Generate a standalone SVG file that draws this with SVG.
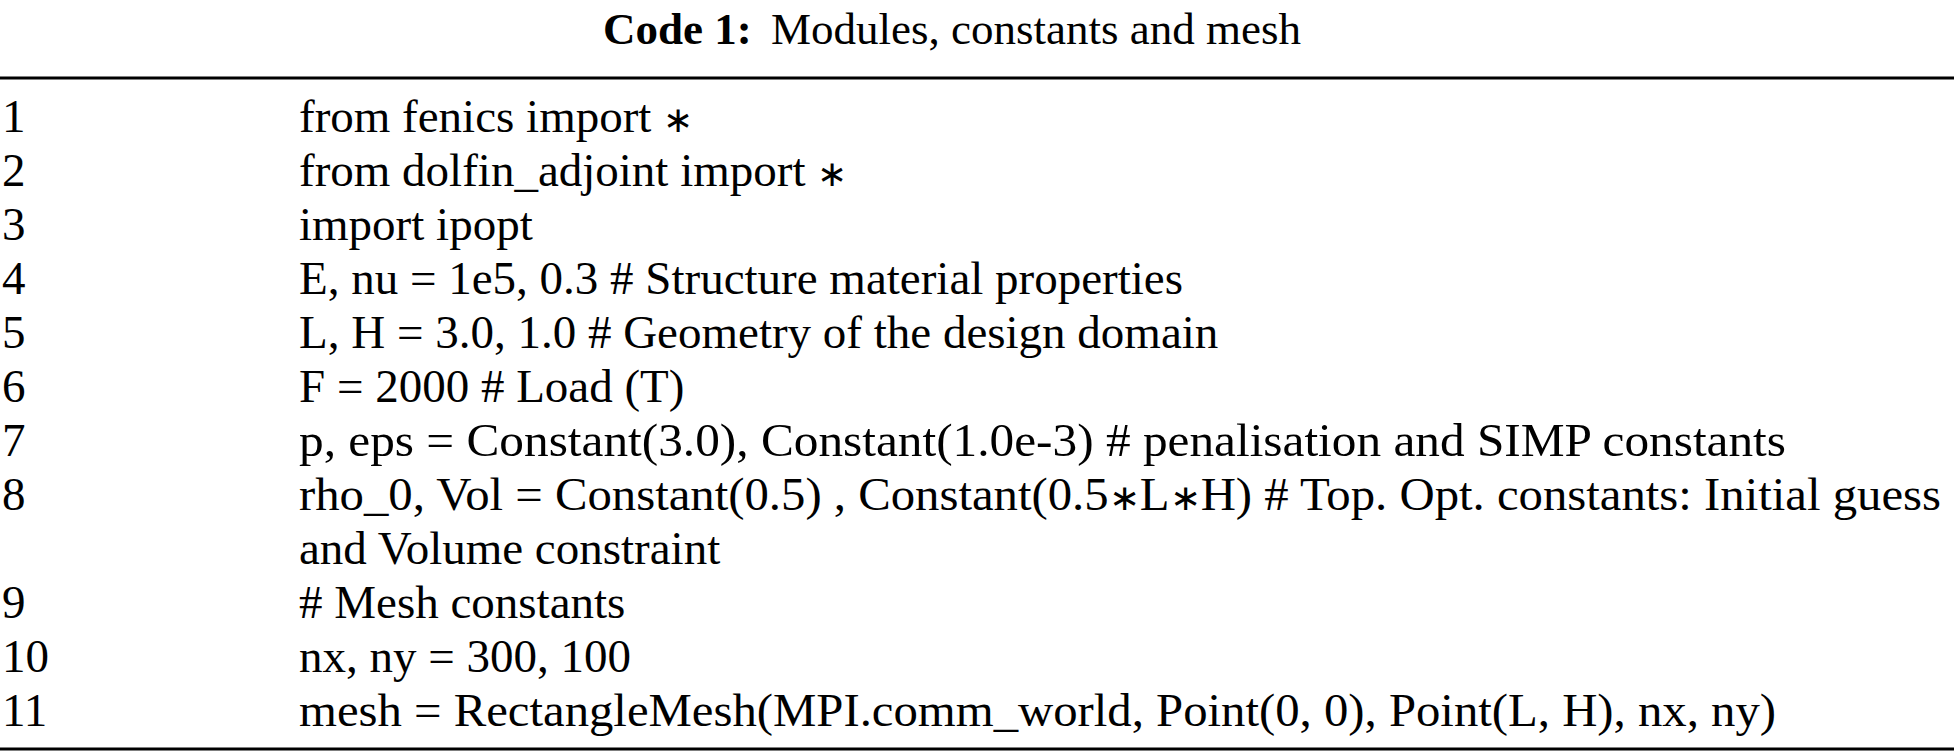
<svg xmlns="http://www.w3.org/2000/svg" width="1954" height="754" viewBox="0 0 1954 754">
<style>
text{font-family:"Liberation Serif","Times New Roman",serif;font-size:47px;fill:#000}
.cap{font-size:45px}
.ast{font-size:36px}
.rule{stroke:#000;stroke-width:3}
</style>
<rect width="1954" height="754" fill="#fff"/>
<text class="cap" x="603" y="44"><tspan font-weight="bold">Code 1:</tspan><tspan x="771">Modules, constants and mesh</tspan></text>
<line class="rule" x1="0" y1="78" x2="1954" y2="78"/>
<line class="rule" x1="0" y1="749" x2="1954" y2="749"/>
<g id="numbers">
<text x="2" y="132">1</text>
<text x="2" y="186">2</text>
<text x="2" y="240">3</text>
<text x="2" y="294">4</text>
<text x="2" y="348">5</text>
<text x="2" y="402">6</text>
<text x="2" y="456">7</text>
<text x="2" y="510">8</text>
<text x="2" y="618">9</text>
<text x="2" y="672">10</text>
<text x="2" y="726">11</text>
</g>
<g id="code">
<text x="299" y="132">from fenics import <tspan class="ast">∗</tspan></text>
<text x="299" y="186">from dolfin_adjoint import <tspan class="ast">∗</tspan></text>
<text x="299" y="240">import ipopt</text>
<text x="299" y="294">E, nu = 1e5, 0.3 # Structure material properties</text>
<text x="299" y="348">L, H = 3.0, 1.0 # Geometry of the design domain</text>
<text x="299" y="402">F = 2000 # Load (T)</text>
<text x="299" y="456" textLength="1487" lengthAdjust="spacingAndGlyphs">p, eps = Constant(3.0), Constant(1.0e-3) # penalisation and SIMP constants</text>
<text x="299" y="510" textLength="1642" lengthAdjust="spacingAndGlyphs">rho_0, Vol = Constant(0.5) , Constant(0.5<tspan class="ast">∗</tspan>L<tspan class="ast">∗</tspan>H) # Top. Opt. constants: Initial guess</text>
<text x="299" y="564">and Volume constraint</text>
<text x="299" y="618"># Mesh constants</text>
<text x="299" y="672">nx, ny = 300, 100</text>
<text x="299" y="726" textLength="1477" lengthAdjust="spacingAndGlyphs">mesh = RectangleMesh(MPI.comm_world, Point(0, 0), Point(L, H), nx, ny)</text>
</g>
</svg>
